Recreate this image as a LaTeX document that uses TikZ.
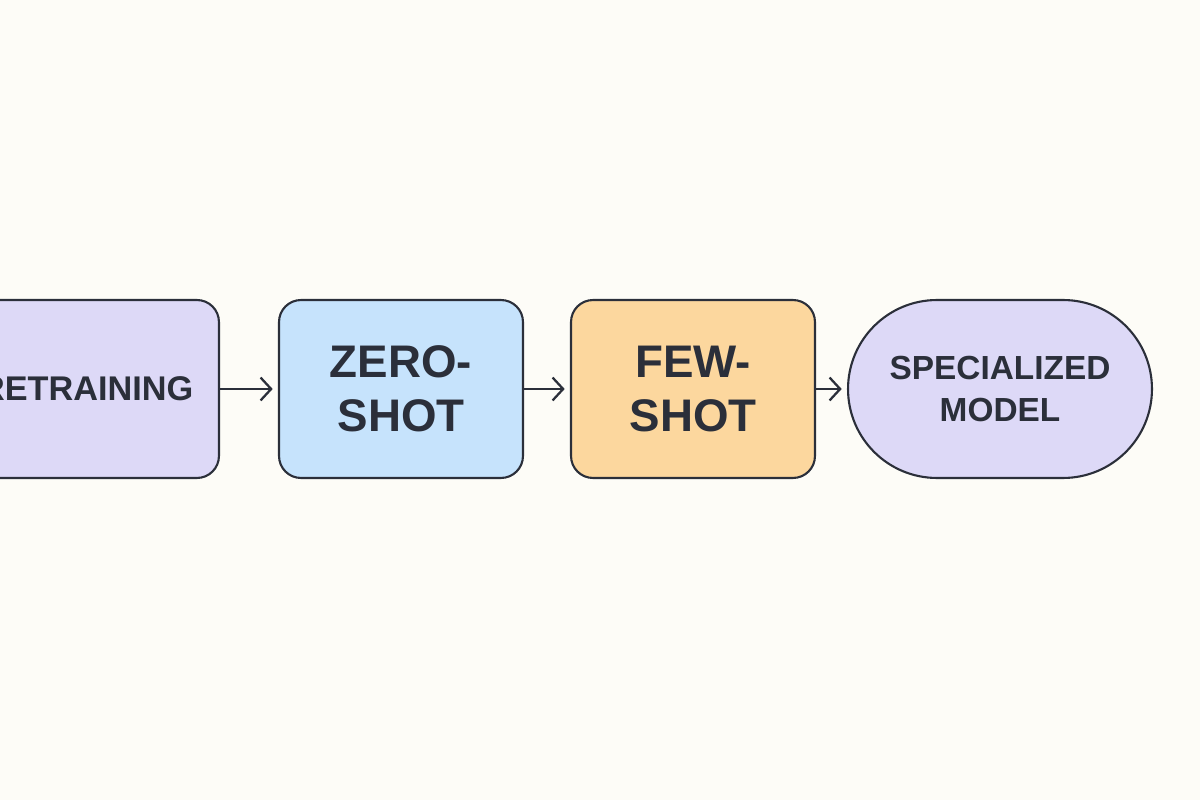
\documentclass[tikz,border=0pt]{standalone}
\usepackage{fontspec}
\setmainfont{Liberation Sans}
\usetikzlibrary{positioning,arrows.meta}
\definecolor{bgcol}{HTML}{FDFCF7}
\definecolor{inkcol}{HTML}{2B2F3A}
\definecolor{lavcol}{HTML}{DDD9F7}
\definecolor{bluecol}{HTML}{C6E3FC}
\definecolor{orangecol}{HTML}{FCD79E}
\tikzset{
  stage/.style={draw=inkcol, line width=1.2pt, rounded corners=0.44cm,
    minimum width=4.88cm, minimum height=3.56cm, align=center, inner sep=0pt,
    text=inkcol, font=\bfseries\fontsize{26}{31}\selectfont},
  link/.style={draw=inkcol, line width=1.3pt, shorten >=3pt,
    -{Straight Barb[length=6pt,width=13pt]}}
}
\begin{document}
\begin{tikzpicture}[x=0.02cm,y=-0.02cm]
\useasboundingbox (0,0) rectangle (1200,800);
\fill[bgcol] (0,0) rectangle (1200,800);
\clip (0,0) rectangle (1200,800);

\node[stage, fill=lavcol, minimum width=5.4cm, anchor=east,
  font=\bfseries\fontsize{19.5}{24}\selectfont] (pre) at (220,389) {PRETRAINING\hspace{0.35cm}};
\node[stage, fill=bluecol] (zero) at (401,389) {ZERO-\\SHOT};
\node[stage, fill=orangecol] (few) at (693,389) {FEW-\\SHOT};
\node[stage, fill=lavcol, rounded corners=1.78cm, minimum width=6.08cm,
  font=\bfseries\fontsize{19}{24}\selectfont] (spec) at (1000,389) {SPECIALIZED\\MODEL};

\draw[link] (pre) -- (zero);
\draw[link] (zero) -- (few);
\draw[link] (few) -- (spec);
\end{tikzpicture}
\end{document}
